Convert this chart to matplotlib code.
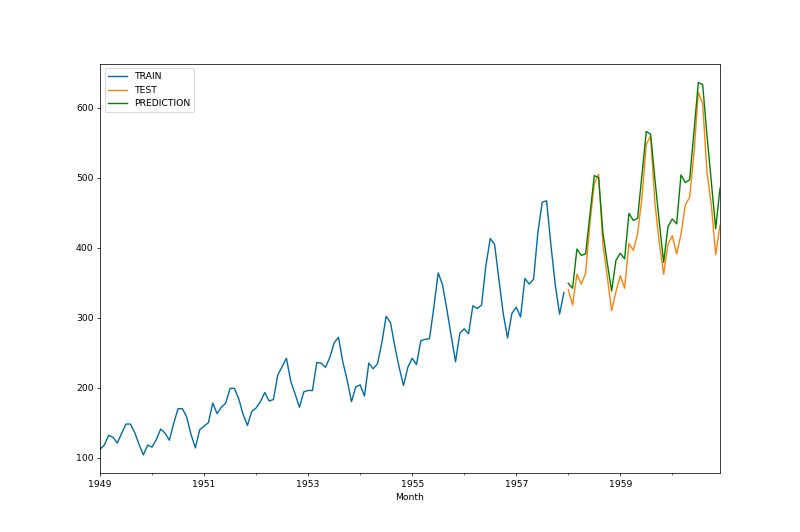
import matplotlib
matplotlib.use("Agg")
import matplotlib.pyplot as plt
import pandas as pd

train_values = [112, 118, 132, 129, 121, 135, 148, 148, 136, 119, 104, 118,
                115, 126, 141, 135, 125, 149, 170, 170, 158, 133, 114, 140,
                145, 150, 178, 163, 172, 178, 199, 199, 184, 162, 146, 166,
                171, 180, 193, 181, 183, 218, 230, 242, 209, 191, 172, 194,
                196, 196, 236, 235, 229, 243, 264, 272, 237, 211, 180, 201,
                204, 188, 235, 227, 234, 264, 302, 293, 259, 229, 203, 229,
                242, 233, 267, 269, 270, 315, 364, 347, 312, 274, 237, 278,
                284, 277, 317, 313, 318, 374, 413, 405, 355, 306, 271, 306,
                315, 301, 356, 348, 355, 422, 465, 467, 404, 347, 305, 336]
test_values = [340, 318, 362, 348, 363, 435, 491, 505, 404, 359, 310, 337,
               360, 342, 406, 396, 420, 472, 548, 559, 463, 407, 362, 405,
               417, 391, 419, 461, 472, 535, 622, 606, 508, 461, 390, 432]
pred_values = [349, 342, 398, 389, 391, 447, 503, 500, 421, 378, 338, 382,
               392, 384, 449, 439, 442, 504, 566, 562, 497, 436, 379, 430,
               441, 434, 504, 493, 497, 566, 636, 633, 560, 494, 427, 485]

train_idx = pd.period_range("1949-01", periods=len(train_values), freq="M")
test_idx = pd.period_range("1958-01", periods=len(test_values), freq="M")

train = pd.Series(train_values, index=pd.PeriodIndex(train_idx, name="Month"))
test = pd.Series(test_values, index=pd.PeriodIndex(test_idx, name="Month"))
pred = pd.Series(pred_values, index=pd.PeriodIndex(test_idx, name="Month"))

fig, ax = plt.subplots(figsize=(12, 7.98), dpi=66.667)
train.plot(ax=ax, color="#006BA4", label="TRAIN")
test.plot(ax=ax, color="#FF800E", label="TEST")
pred.plot(ax=ax, color="green", label="PREDICTION")
ax.legend(loc="upper left")
ax.set_xlabel("Month")
fig.savefig("out.png", dpi=66.667)
